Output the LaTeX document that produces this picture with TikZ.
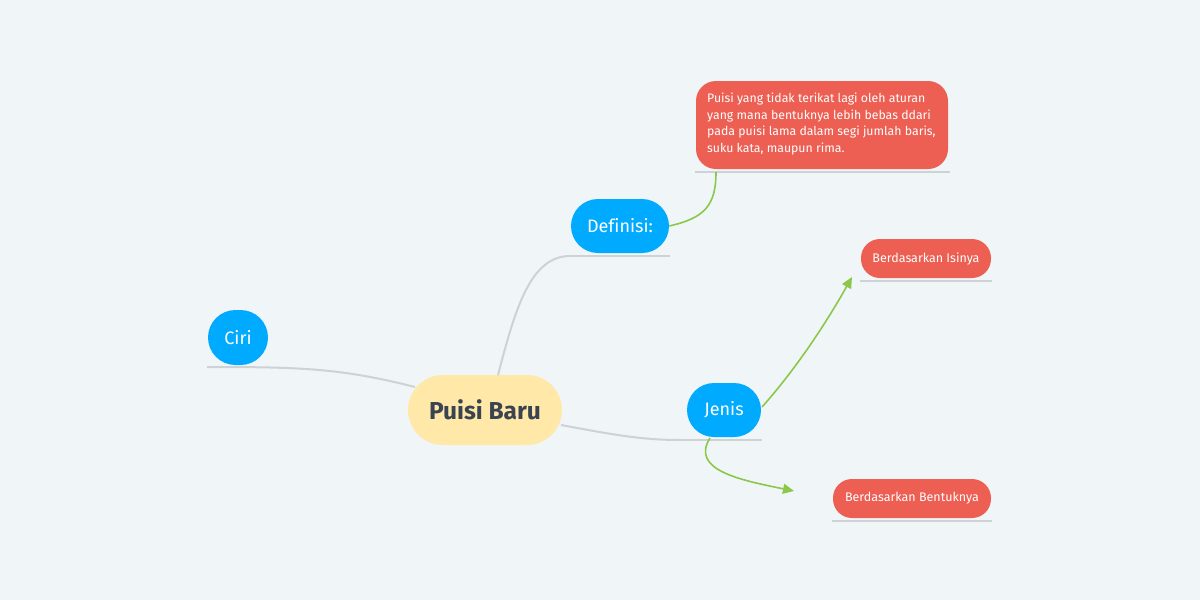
\documentclass[tikz,border=0pt]{standalone}
\usepackage{fontspec}
\setmainfont[Ligatures=NoCommon]{Fira Sans}
\usetikzlibrary{arrows.meta}
\definecolor{bg}{HTML}{F0F5F8}
\definecolor{conn}{HTML}{CDD2D6}
\definecolor{grn}{HTML}{8BC84A}
\definecolor{blu}{HTML}{00AAFF}
\definecolor{rd}{HTML}{EC5F52}
\definecolor{yel}{HTML}{FFE8A8}
\definecolor{dark}{HTML}{3A4450}
\begin{document}
\begin{tikzpicture}[x=1pt,y=-1pt,
  central/.style={fill=yel, rounded corners=35pt, minimum width=154pt, minimum height=70pt, inner sep=0pt, font=\fontsize{24.5}{28}\selectfont\bfseries, text=dark},
  main/.style={fill=blu, rounded corners=27pt, minimum height=54pt, inner sep=0pt, font=\fontsize{18}{22}\selectfont, text=white},
  sub/.style={fill=rd, rounded corners=19pt, minimum height=39pt, inner sep=0pt, font=\fontsize{12.5}{15}\selectfont, text=white},
  gline/.style={draw=conn, line width=2pt},
  garrow/.style={draw=grn, line width=1.6pt, -{Triangle[length=11pt,width=10pt]}},
  gcurve/.style={draw=grn, line width=1.6pt}]
\fill[bg] (0,0) rectangle (1200,600);
\useasboundingbox (0,0) rectangle (1200,600);

\node[central] (pb) at (485,410) {Puisi Baru};
\node[main, minimum width=98pt] (def) at (620,226) {Definisi:};
\node[main, minimum width=60pt, minimum height=55pt, rounded corners=27.5pt] (ciri) at (238,337.5) {Ciri};
\node[main, minimum width=74pt] (jen) at (724,410) {Jenis};
\node[fill=rd, rounded corners=20pt, minimum width=252pt, minimum height=88pt, inner sep=0pt, text=white] (dtxt) at (822,125) {};
\node[text=white, anchor=north west, align=left, inner sep=0pt, font=\fontsize{12.3}{16.6}\selectfont] (dlab) at (707,93) {Puisi yang tidak terikat lagi oleh aturan\\yang mana bentuknya lebih bebas ddari\\pada puisi lama dalam segi jumlah baris,\\suku kata, maupun rima.};
\node[sub, minimum width=130pt] (isi) at (926,258.5) {Berdasarkan Isinya};
\node[sub, minimum width=158pt] (ben) at (912,498.5) {Berdasarkan Bentuknya};

% underlines
\coordinate (defu1) at (570,256); \coordinate (defu2) at (670,256);
\coordinate (ciru1) at (207,367); \coordinate (ciru2) at (268,367);
\coordinate (jenu1) at (680,440); \coordinate (jenu2) at (762,440);
\coordinate (du1) at (695,172); \coordinate (du2) at (950,172);
\coordinate (iu1) at (860,281); \coordinate (iu2) at (992,281);
\coordinate (bu1) at (832,521); \coordinate (bu2) at (992,521);
\draw[gline] (defu1) -- (defu2);
\draw[gline] (jenu1) -- (jenu2);
\draw[gline] (du1) -- (du2);
\draw[gline] (iu1) -- (iu2);
\draw[gline] (bu1) -- (bu2);

% connectors from center
\coordinate (pbtop) at (498,375);
\coordinate (pbleft) at (415,387);
\coordinate (pbright) at (561,425);
\draw[gline] (pbtop) .. controls (515,310) and (530,256) .. (defu1);
\draw[gline] (pbleft) .. controls (340,368) and (300,367) .. (ciru1);
\draw[gline] (pbright) .. controls (610,434) and (640,440) .. (jenu1);

% green connectors
\coordinate (dconn) at (716,172);
\draw[gcurve] (def.east) .. controls (705,218) and (716,205) .. (dconn);
\coordinate (isiarr) at (852,277);
\coordinate (benarr) at (794,491);
\coordinate (jenr) at (762,407);
\coordinate (jenb) at (710,438);
\draw[garrow] (jenr) .. controls (795,370) and (825,325) .. (isiarr);
\draw[garrow] (jenb) .. controls (690,470) and (740,480) .. (benarr);
\end{tikzpicture}
\end{document}
